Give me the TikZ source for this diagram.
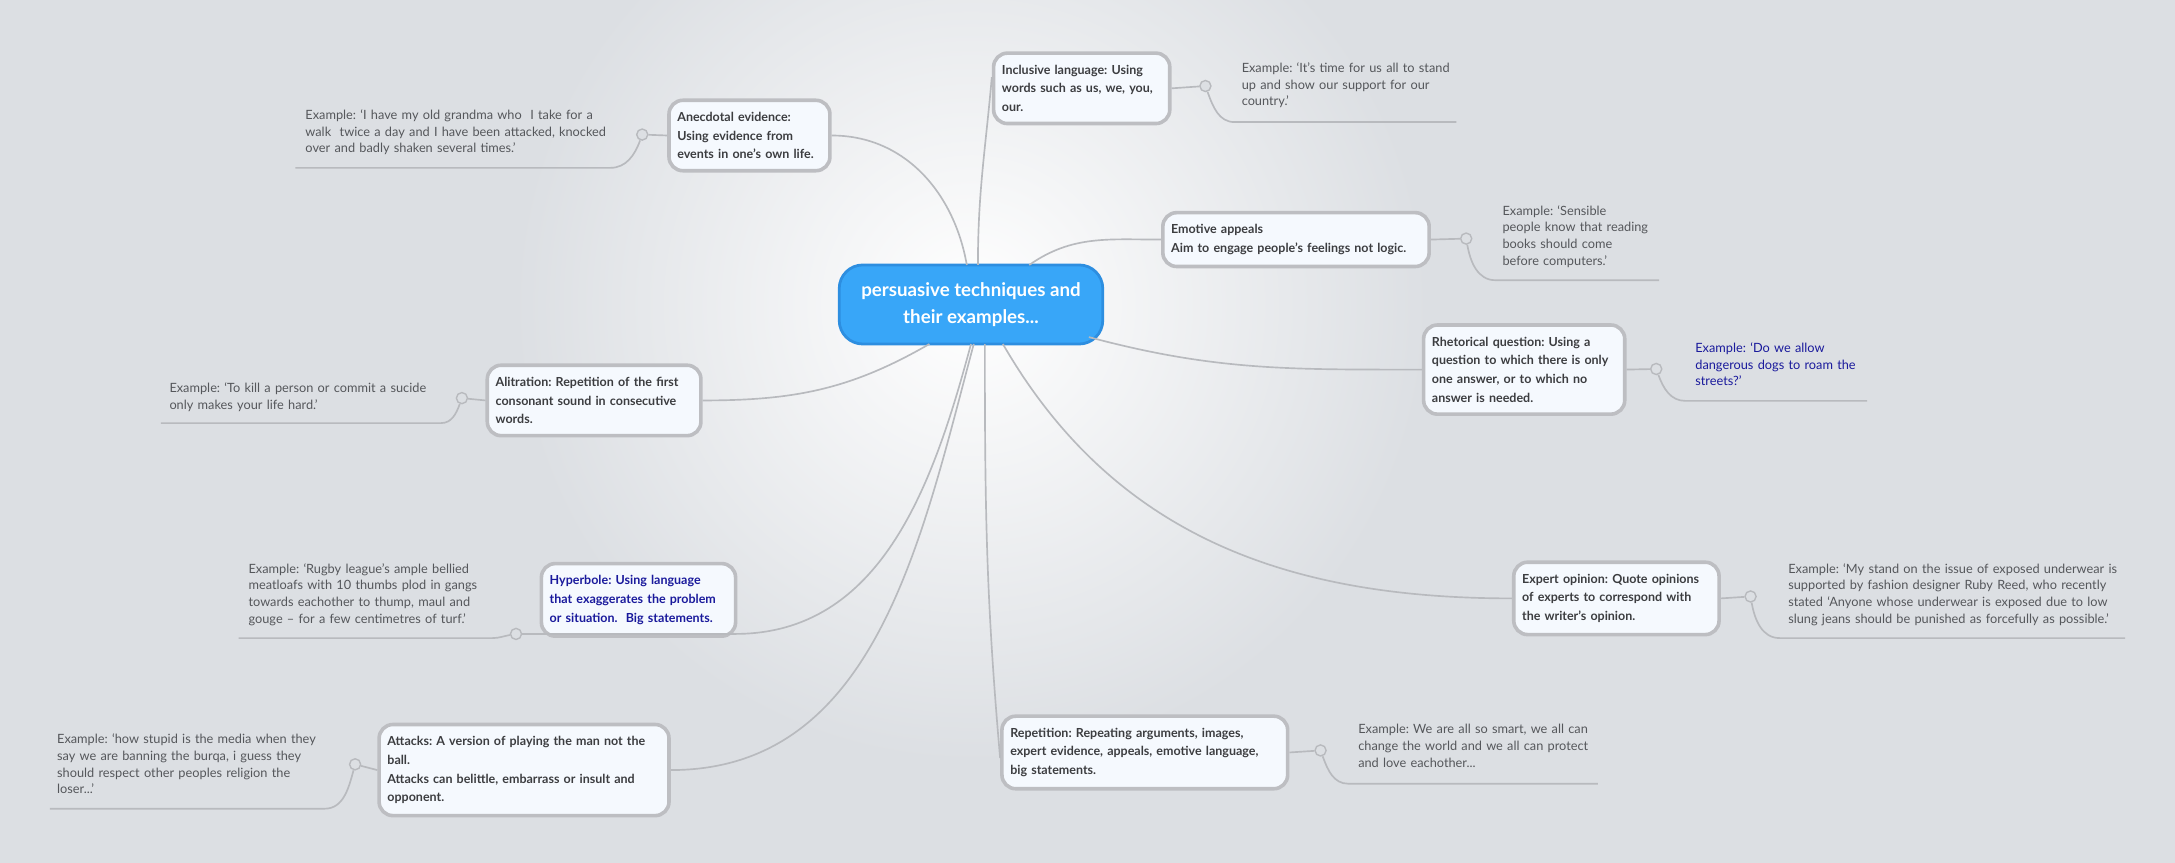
\documentclass[tikz,border=0pt]{standalone}
\usepackage{fontspec}
\setmainfont{Lato}
\frenchspacing
\definecolor{bg}{HTML}{DCDFE3}
\definecolor{cfill}{HTML}{38A6F8}
\definecolor{cdraw}{HTML}{2D8EE0}
\definecolor{tfill}{HTML}{F5F9FE}
\definecolor{tdraw}{HTML}{BDBEC2}
\definecolor{ln}{HTML}{B8BABE}
\definecolor{txt}{HTML}{3C3D40}
\definecolor{etxt}{HTML}{55575B}
\definecolor{navy}{HTML}{1A1A9C}
\tikzset{
 topic/.style={draw=tdraw,line width=2.6pt,fill=tfill,rounded corners=10pt,align=left,font=\fontsize{9}{13.5}\selectfont\bfseries,text=txt,inner xsep=6pt,inner ysep=8.5pt,anchor=north west},
 ex/.style={align=left,font=\fontsize{9.2}{12}\selectfont,text=etxt,anchor=north west,inner sep=0pt},
 knob/.style={circle,draw=ln,line width=1pt,fill=bg,minimum size=8pt,inner sep=0pt},
 conn/.style={draw=ln,line width=1.2pt},
 sub/.style={draw=ln,line width=1.2pt}
}
\begin{document}
\begin{tikzpicture}[x=1pt,y=-1pt]
\useasboundingbox (0,0) rectangle (1568,622);
\fill[bg] (0,0) rectangle (1568,622);
\shade[inner color=white,outer color=bg] (700,220) circle (330);
% center
\node[draw=cdraw,line width=2pt,fill=cfill,rounded corners=17pt,minimum width=190pt,minimum height=57pt,text=white,align=center,font=\fontsize{13.5}{19}\selectfont\bfseries] (c) at (700,219.5) {persuasive techniques and\\their examples...};
% topics
\node[topic,text width=104pt] (t1) at (481,71) {Anecdotal evidence:\\Using evidence from\\events in one's own life.};
\node[topic,text width=115pt] (t2) at (715,37) {Inclusive language: Using\\words such as us, we, you,\\our.};
\node[topic,text width=180pt] (t3) at (837,152) {Emotive appeals\\Aim to engage people's feelings not logic.};
\node[topic,text width=133pt] (t4) at (1025,233) {Rhetorical question: Using a\\question to which there is only\\one answer, or to which no\\answer is needed.};
\node[topic,text width=136pt] (t5) at (1090,404) {Expert opinion: Quote opinions\\of experts to correspond with\\the writer's opinion.};
\node[topic,text width=194pt] (t6) at (721,515) {Repetition: Repeating arguments, images,\\expert evidence, appeals, emotive language,\\big statements.};
\node[topic,text width=197pt] (t7) at (272,521) {Attacks: A version of playing the man not the\\ball.\\Attacks can belittle, embarrass or insult and\\opponent.};
\node[topic,text width=128pt,text=navy] (t8) at (389,405) {Hyperbole: Using language\\that exaggerates the problem\\or situation.\ \ Big statements.};
\node[topic,text width=142pt] (t9) at (350,262) {Alitration: Repetition of the first\\consonant sound in consecutive\\words.};
% connectors from center
\draw[conn] (697,191) to[out=100,in=0] (t1.east);
\draw[conn] (705,191) to[out=90,in=-95] ([yshift=8pt]t2.west);
\draw[conn] (742,191) to[out=35,in=180] (t3.west);
\draw[conn] (785,243) to[out=-15,in=180] (t4.west);
\draw[conn] (723,248) to[out=-60,in=180] (t5.west);
\draw[conn] (710,248) to[out=-90,in=95] ([yshift=-4pt]t6.west);
\draw[conn] (702,248) to[out=-105,in=0] (t7.east);
\draw[conn] (700,248) to[out=-105,in=0] (530,457);
\draw[conn] (670,248) to[out=-150,in=0] (t9.east);
% examples
\node[ex,text width=230pt] (e1) at (220,79) {Example: `I have my old grandma who\ \ I take for a\\walk\ \ twice a day and I have been attacked, knocked\\over and badly shaken several times.'};
\node[knob] (k1) at (463,97) {};
\draw[sub] (t1.west) -- (k1);
\draw[sub] (k1) to[out=-110,in=0] (440,121) -- (213,121);
\node[ex,text width=160pt] (e2) at (895,45) {Example: `It's time for us all to stand\\up and show our support for our\\country.'};
\node[knob] (k2) at (869,62) {};
\draw[sub] (t2.east) -- (k2);
\draw[sub] (k2) to[out=-70,in=180] (890,88) -- (1050,88);
\node[ex,text width=120pt] (e3) at (1083,148) {Example: `Sensible\\people know that reading\\books should come\\before computers.'};
\node[knob] (k3) at (1057,172) {};
\draw[sub] (t3.east) -- (k3);
\draw[sub] (k3) to[out=-80,in=180] (1078,202) -- (1196,202);
\node[ex,text width=130pt,text=navy] (e4) at (1222,247) {Example: `Do we allow\\dangerous dogs to roam the\\streets?'};
\node[knob] (k4) at (1194,266) {};
\draw[sub] (t4.east) -- (k4);
\draw[sub] (k4) to[out=-70,in=180] (1215,289) -- (1346,289);
\node[ex,text width=250pt] (e5) at (1289,406) {Example: `My stand on the issue of exposed underwear is\\supported by fashion designer Ruby Reed, who recently\\stated `Anyone whose underwear is exposed due to low\\slung jeans should be punished as forcefully as possible.'};
\node[knob] (k5) at (1262,430) {};
\draw[sub] (t5.east) -- (k5);
\draw[sub] (k5) to[out=-80,in=180] (1283,460) -- (1532,460);
\node[ex,text width=180pt] (e6) at (979,522) {Example: We are all so smart, we all can\\change the world and we all can protect\\and love eachother...};
\node[knob] (k6) at (952,541) {};
\draw[sub] (t6.east) -- (k6);
\draw[sub] (k6) to[out=-70,in=180] (972,565) -- (1152,565);
\node[ex,text width=200pt] (e7) at (41,529) {Example: `how stupid is the media when they\\say we are banning the burqa, i guess they\\should respect other peoples religion the\\loser...'};
\node[knob] (k7) at (256,551) {};
\draw[sub] (t7.west) -- (k7);
\draw[sub] (k7) to[out=-105,in=0] (234,583) -- (36,583);
\node[ex,text width=190pt] (e8) at (179,406) {Example: `Rugby league's ample bellied\\meatloafs with 10 thumbs plod in gangs\\towards eachother to thump, maul and\\gouge -- for a few centimetres of turf.'};
\node[knob] (k8) at (372,457) {};
\draw[sub] (530,457) -- (k8);
\draw[sub] (k8) to[out=190,in=0] (355,460) -- (172,460);
\node[ex,text width=200pt] (e9) at (122,276) {Example: `To kill a person or commit a sucide\\only makes your life hard.'};
\node[knob] (k9) at (333,287) {};
\draw[sub] (t9.west) -- (k9);
\draw[sub] (k9) to[out=-110,in=0] (318,305) -- (116,305);
\end{tikzpicture}
\end{document}
